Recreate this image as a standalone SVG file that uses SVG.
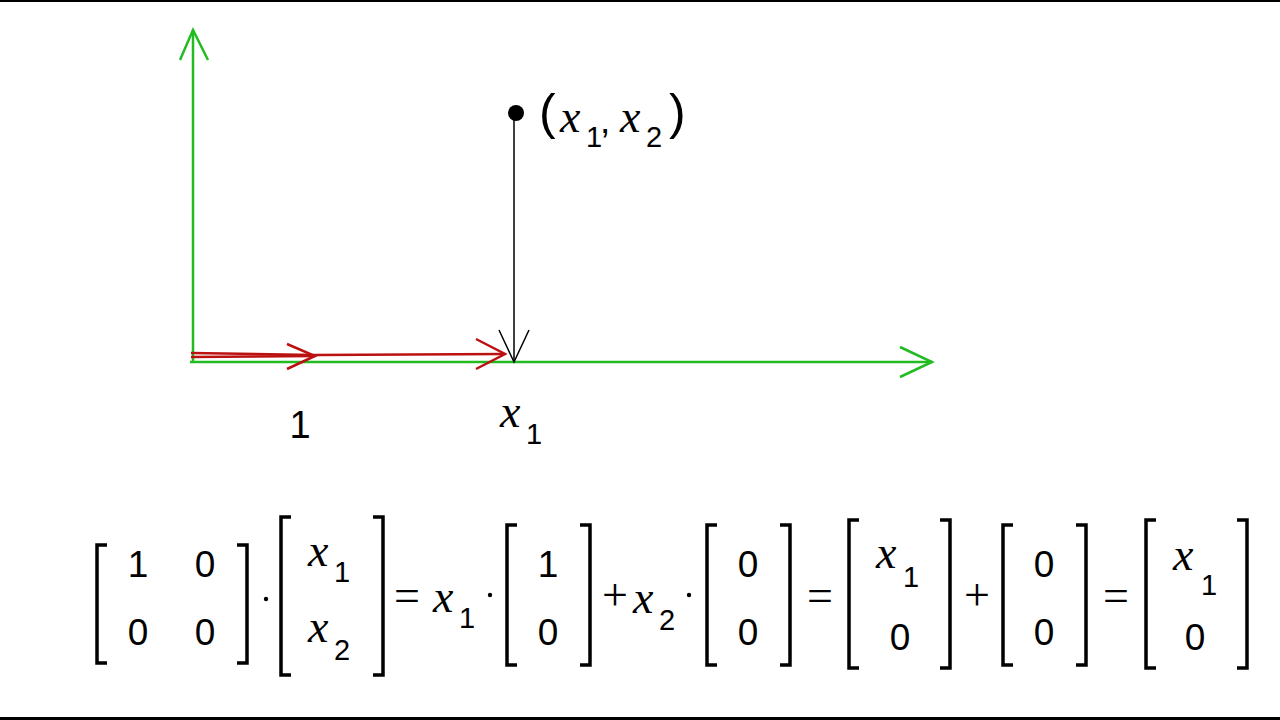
<svg xmlns="http://www.w3.org/2000/svg" width="1280" height="720" viewBox="0 0 1280 720">
<style>
.g{stroke:#22bb22;stroke-width:2.5;fill:none}
.r{stroke:#bb1111;stroke-width:2.5;fill:none}
.k{stroke:#000;stroke-width:1.5;fill:none}
.br{stroke:#000;stroke-width:3.5;fill:none}
</style>
<rect width="1280" height="720" fill="#fff"/>
<line x1="0" y1="1" x2="1280" y2="1" stroke="#000" stroke-width="2"/>
<line x1="0" y1="718.5" x2="1280" y2="718.5" stroke="#000" stroke-width="3"/>
<g id="axes">
<polyline class="g" points="193,362 193,30"/>
<polyline class="g" points="180,60 193,30 208,60"/>
<polyline class="g" points="190,362 932,362"/>
<polyline class="g" points="900,347 932,362 900,377"/>
</g>
<g id="connectors">
<polyline class="r" points="191,353 315,355"/>
<polyline class="r" points="191,357 315,356"/>
<polyline class="r" points="287,344 315,356 287,369"/>
<polyline class="r" points="315,355 505,354"/>
<polyline class="r" points="476,339 505,354 476,369"/>
<line class="k" x1="514" y1="113" x2="514" y2="362"/>
<polyline class="k" points="499,330 514,362 529,330"/>
</g>
<g id="point">
<circle cx="516" cy="113" r="8" fill="#000"/>
<g font-family="Liberation Sans, Arial, sans-serif" font-size="50">
<text x="539" y="129">(</text>
<text x="669" y="129">)</text>
<text x="600" y="133" font-size="37">,</text>
</g>
<g font-family="Liberation Serif, Times New Roman, serif" font-style="italic" font-size="46">
<text x="560" y="132">x</text>
<text x="620" y="132">x</text>
</g>
<g font-family="Liberation Sans, Arial, sans-serif" font-size="29">
<text x="586" y="147">1</text>
<text x="646" y="147">2</text>
</g>
</g>
<g id="labels">
<text x="300" y="438" text-anchor="middle" font-family="Liberation Sans, Arial, sans-serif" font-size="38">1</text>
<text x="500" y="427" font-family="Liberation Serif, Times New Roman, serif" font-style="italic" font-size="46">x</text>
<text x="526" y="444" font-family="Liberation Sans, Arial, sans-serif" font-size="29">1</text>
</g>
<g id="equation">
<polyline class="br" points="107,545 97,545 97,663 107,663"/>
<polyline class="br" points="237,545 247,545 247,663 237,663"/>
<polyline class="br" points="291,517 281,517 281,675 291,675"/>
<polyline class="br" points="373,517 383,517 383,675 373,675"/>
<polyline class="br" points="517,525 507,525 507,665 517,665"/>
<polyline class="br" points="580,525 590,525 590,665 580,665"/>
<polyline class="br" points="717,525 707,525 707,665 717,665"/>
<polyline class="br" points="780,525 790,525 790,665 780,665"/>
<polyline class="br" points="859,520 849,520 849,668 859,668"/>
<polyline class="br" points="940,520 950,520 950,668 940,668"/>
<polyline class="br" points="1013,525 1003,525 1003,665 1013,665"/>
<polyline class="br" points="1076,525 1086,525 1086,665 1076,665"/>
<polyline class="br" points="1156,520 1146,520 1146,668 1156,668"/>
<polyline class="br" points="1237,520 1247,520 1247,668 1237,668"/>
<circle cx="266" cy="599" r="2.2" fill="#000"/>
<circle cx="490" cy="595" r="2.2" fill="#000"/>
<circle cx="689" cy="595" r="2.2" fill="#000"/>
<g font-family="Liberation Sans, Arial, sans-serif" font-size="37" text-anchor="middle">
<text x="138" y="577">1</text>
<text x="205" y="577">0</text>
<text x="138" y="645">0</text>
<text x="205" y="645">0</text>
<text x="548" y="577">1</text>
<text x="548" y="645">0</text>
<text x="748" y="577">0</text>
<text x="748" y="645">0</text>
<text x="900" y="650">0</text>
<text x="1044" y="577">0</text>
<text x="1044" y="645">0</text>
<text x="1195" y="650">0</text>
</g>
<g font-family="Liberation Serif, Times New Roman, serif" font-style="italic" font-size="46">
<text x="308" y="566">x</text>
<text x="308" y="642">x</text>
<text x="433" y="612">x</text>
<text x="633" y="613">x</text>
<text x="876" y="568">x</text>
<text x="1173" y="570">x</text>
</g>
<g font-family="Liberation Sans, Arial, sans-serif" font-size="29">
<text x="334" y="582">1</text>
<text x="334" y="660">2</text>
<text x="459" y="628">1</text>
<text x="659" y="630">2</text>
<text x="903" y="587">1</text>
<text x="1201" y="595">1</text>
</g>
<g font-family="Liberation Serif, Times New Roman, serif" font-size="46" text-anchor="middle">
<text x="407" y="611">=</text>
<text x="615" y="610">+</text>
<text x="820" y="611">=</text>
<text x="977" y="610">+</text>
<text x="1116" y="611">=</text>
</g>
</g>
</svg>
